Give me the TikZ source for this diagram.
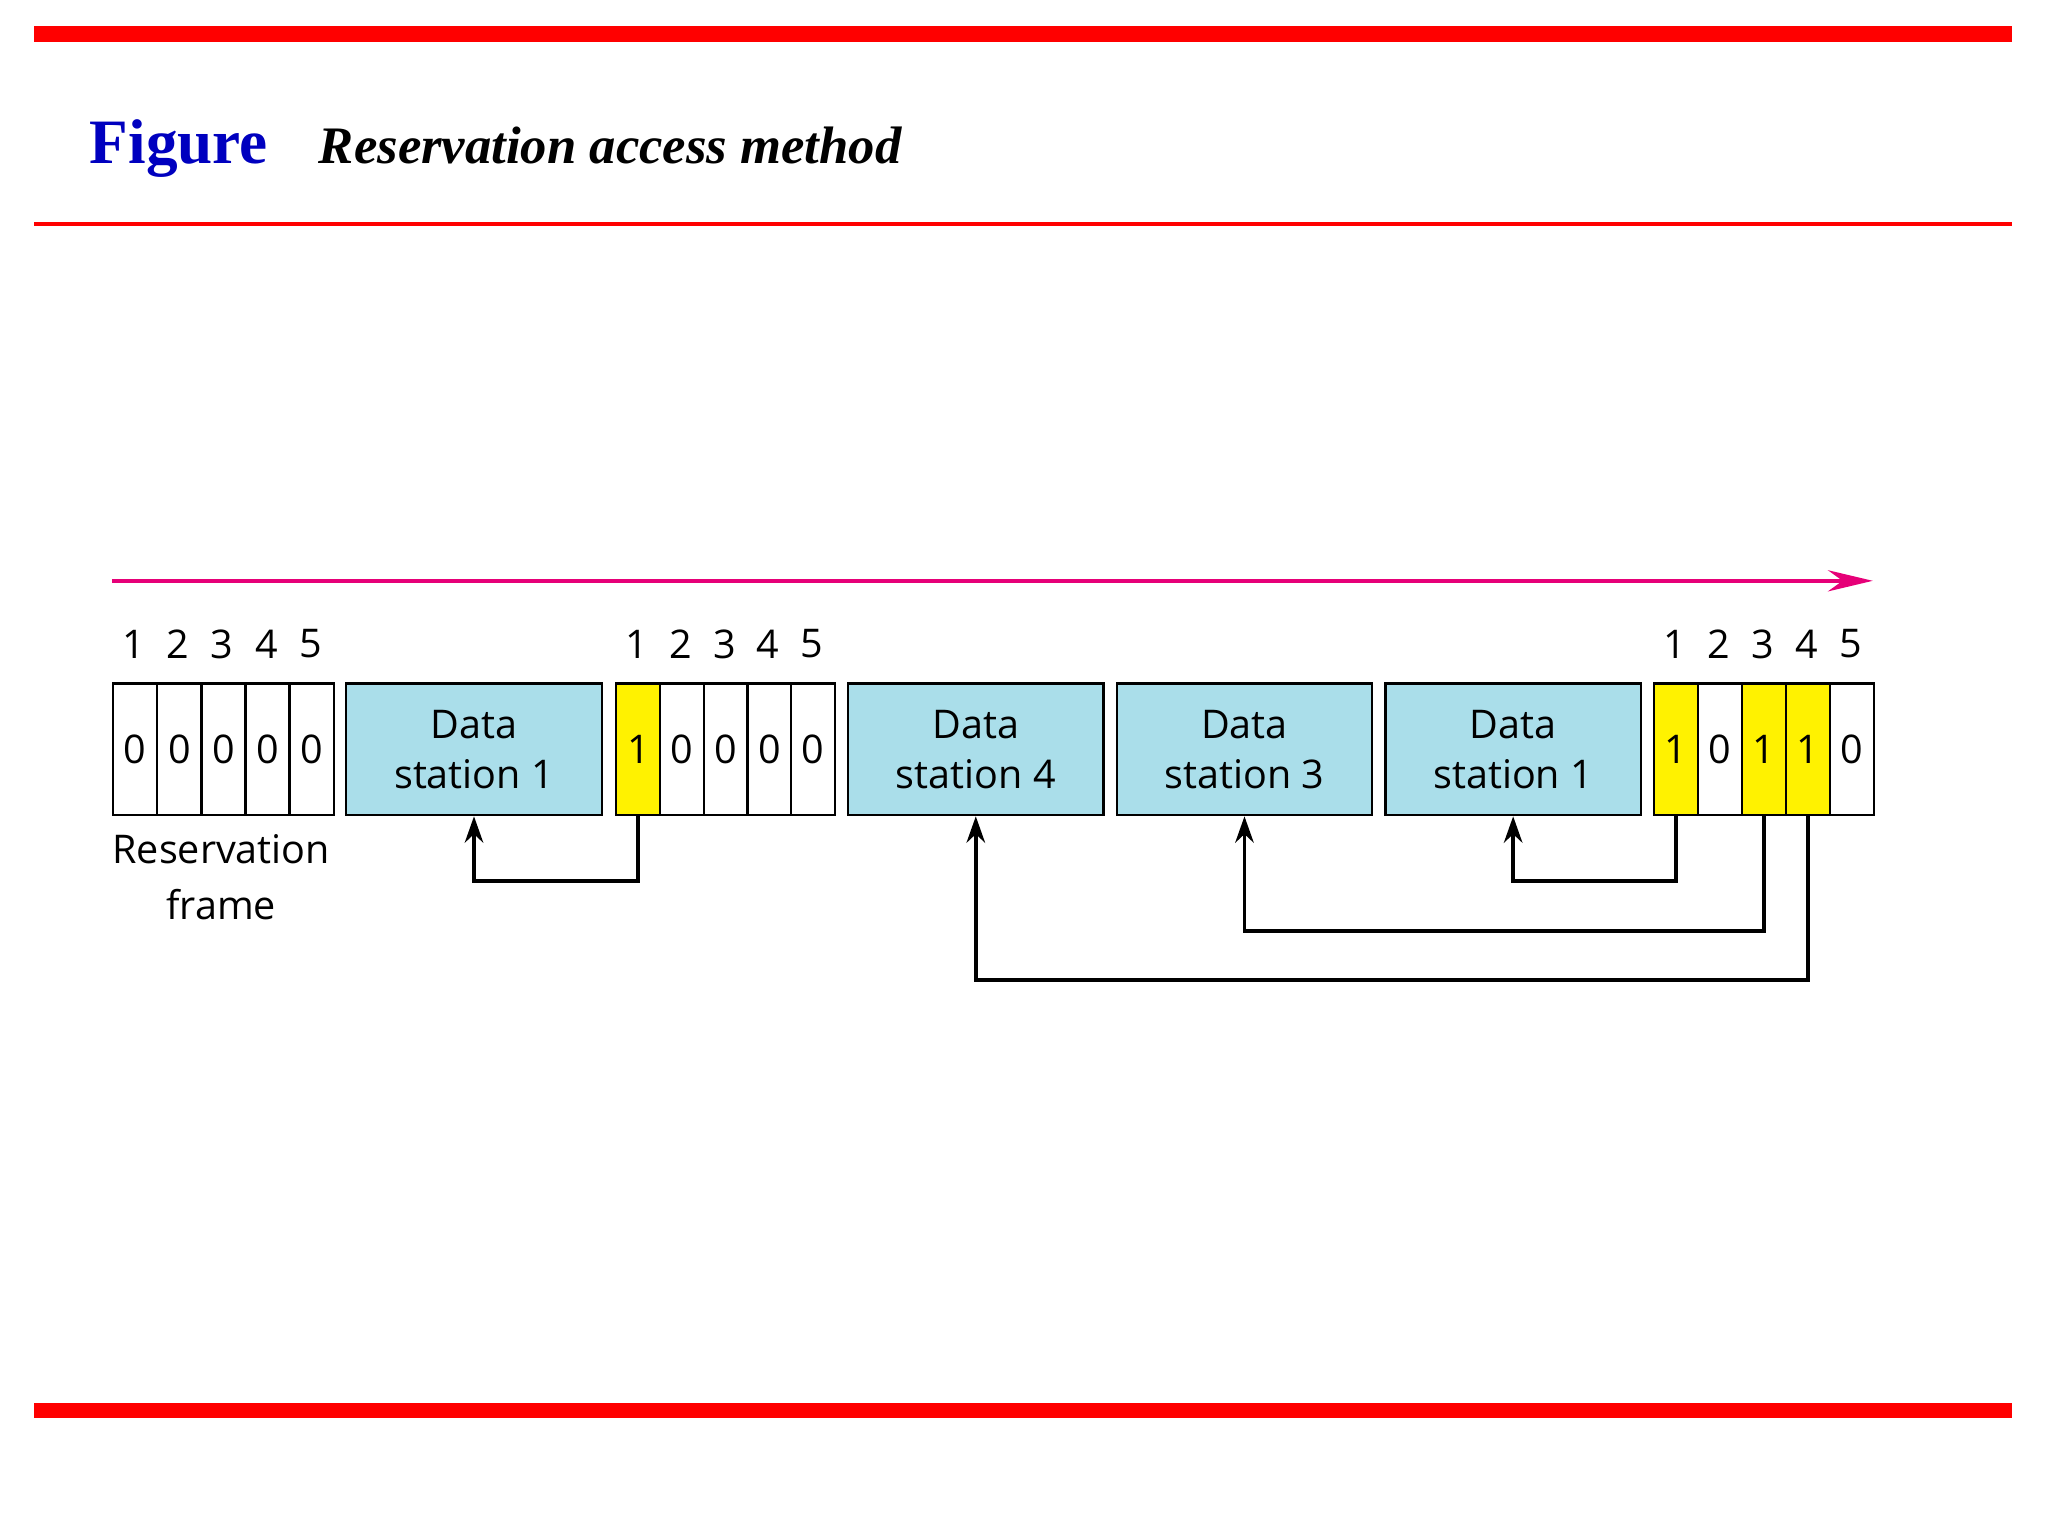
\documentclass[tikz,border=0pt]{standalone}
\usepackage{fontspec}
\setmainfont{Liberation Serif}
\newfontfamily\myss{Open Sans}
\usetikzlibrary{arrows.meta}
\definecolor{cy}{RGB}{170,222,234}
\definecolor{mag}{RGB}{230,0,120}
\begin{document}
\begin{tikzpicture}[x=1pt,y=-1pt,
 cell/.style={draw,line width=1.8pt,minimum width=33.5pt,minimum height=100pt,inner sep=0pt,font=\myss\fontsize{30}{30}\selectfont,anchor=north west},
 data/.style={draw,line width=1.8pt,fill=cy,minimum width=194pt,minimum height=100pt,inner sep=0pt,align=center,font=\myss\fontsize{30}{38}\selectfont,anchor=north west},
 num/.style={font=\myss\fontsize{30}{30}\selectfont},
 con/.style={line width=3pt,-{Stealth[length=20pt,width=14pt]}}]
\useasboundingbox (0,0) rectangle (1555,1166);
\fill[red] (26,20) rectangle (1528,32);
\fill[red] (26,168.5) rectangle (1528,171.5);
\fill[red] (26,1065) rectangle (1528,1077);
\node[anchor=base west,inner sep=0pt,text=blue!75!black,font=\bfseries\fontsize{48}{48}\selectfont] (ti) at (68,124) {Figure};
\node[anchor=base west,inner sep=0pt,font=\bfseries\itshape\fontsize{40}{40}\selectfont] (st) at (242,124) {Reservation access method};
\coordinate (a0) at (85,441); \coordinate (a1) at (1422,441);
\draw[mag,line width=3.5pt,-{Stealth[length=34pt,width=16pt]}] (a0) -- (a1);
\foreach \i in {1,...,5}{
 \node[cell] (f1\i) at ({85+(\i-1)*33.5},518) {0};
 \node[num] (n1\i) at ({101.75+(\i-1)*33.5},489) {\i};}
\node[data] (d1) at (262,518) {Data\\station 1};
\foreach \i/\v/\c in {1/1/yellow,2/0/white,3/0/white,4/0/white,5/0/white}{
 \node[cell,fill=\c] (f2\i) at ({467+(\i-1)*33.2},518) {\v};
 \node[num] (n2\i) at ({483.6+(\i-1)*33.2},489) {\i};}
\node[data] (d4) at (643,518) {Data\\station 4};
\node[data] (d3) at (847,518) {Data\\station 3};
\node[data] (d5) at (1051,518) {Data\\station 1};
\foreach \i/\v/\c in {1/1/yellow,2/0/white,3/1/yellow,4/1/yellow,5/0/white}{
 \node[cell,fill=\c] (f3\i) at ({1255+(\i-1)*33.4},518) {\v};
 \node[num] (n3\i) at ({1271.7+(\i-1)*33.4},489) {\i};}
\node[align=center,font=\myss\fontsize{30}{43}\selectfont] (rf) at (168,666) {Reservation\\frame};
\draw[con] (f21.south) |- ++(0,49) -| (d1.south);
\draw[con] (f31.south) |- ++(0,49) -| (d5.south);
\draw[con] (f33.south) |- ++(0,87) -| (d3.south);
\draw[con] (f34.south) |- ++(0,124) -| (d4.south);
\end{tikzpicture}
\end{document}
